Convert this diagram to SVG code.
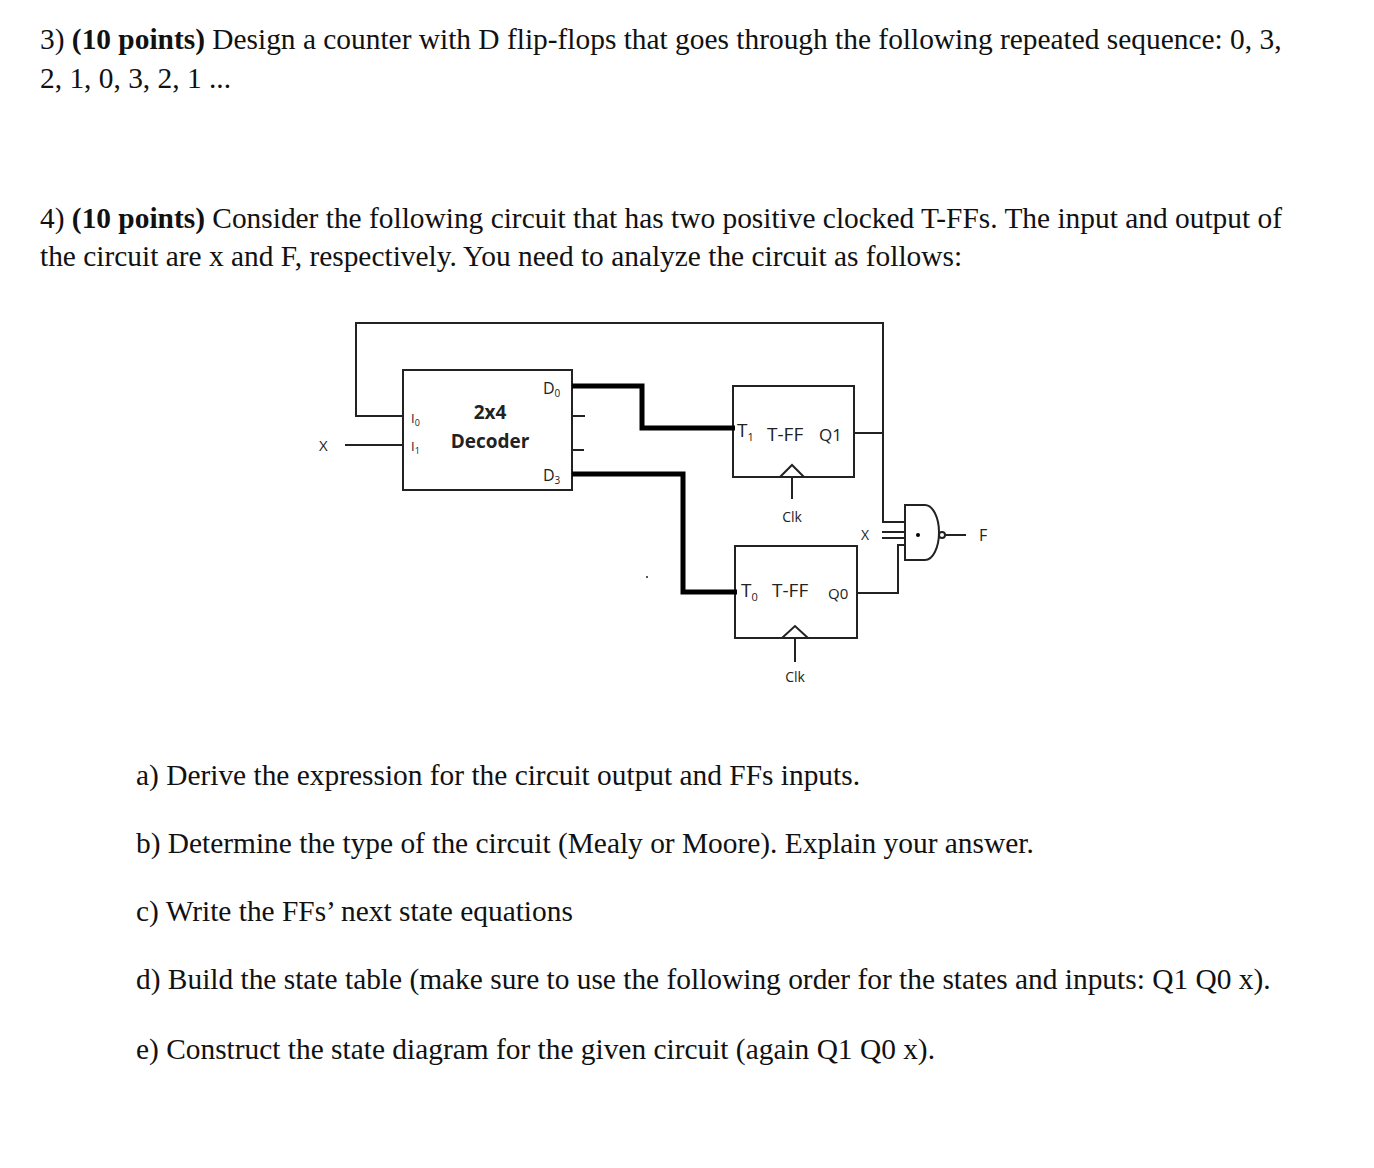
<svg xmlns="http://www.w3.org/2000/svg" width="1374" height="1168" viewBox="0 0 1374 1168">
<style>
.t{font-family:"Liberation Serif",serif;font-size:29.4px;fill:#111}
.s{font-family:"Open Sans","DejaVu Sans",sans-serif;fill:#222}
.b{fill:none;stroke:#222;stroke-width:2}
.w{fill:none;stroke:#222;stroke-width:2}
.k{fill:none;stroke:#000;stroke-width:5}
</style>
<rect width="1374" height="1168" fill="#fff"/>
<text class="t" x="40" y="49">3) <tspan font-weight="bold">(10 points)</tspan> Design a counter with D flip-flops that goes through the following repeated sequence: 0, 3,</text>
<text class="t" x="40" y="88">2, 1, 0, 3, 2, 1 ...</text>
<text class="t" x="40" y="228">4) <tspan font-weight="bold">(10 points)</tspan> Consider the following circuit that has two positive clocked T-FFs. The input and output of</text>
<text class="t" x="40" y="266">the circuit are x and F, respectively. You need to analyze the circuit as follows:</text>
<g id="decoder">
<rect class="b" x="403" y="370" width="169" height="120"/>
<text class="s" x="490" y="419" font-size="19" font-weight="bold" text-anchor="middle">2x4</text>
<text class="s" x="490" y="448" font-size="19" font-weight="bold" text-anchor="middle">Decoder</text>
<text class="s" x="411" y="423" font-size="13">I<tspan font-size="9" dy="3">0</tspan></text>
<text class="s" x="411" y="451" font-size="13">I<tspan font-size="9" dy="3">1</tspan></text>
<text class="s" x="543" y="394" font-size="16">D<tspan font-size="10" dy="3">0</tspan></text>
<text class="s" x="543" y="481" font-size="16">D<tspan font-size="10" dy="3">3</tspan></text>
<path class="w" d="M572 416h13M572 450h12" stroke-width="3"/>
</g>
<g id="tff1">
<rect class="b" x="733" y="386" width="121" height="91"/>
<text class="s" x="737" y="437" font-size="19">T<tspan font-size="11" dy="4">1</tspan></text>
<text class="s" x="767" y="441" font-size="19">T-FF</text>
<text class="s" x="819" y="441" font-size="17" font-family="Liberation Serif">Q1</text>
<path class="b" d="M780 477l12-12l12 12M792 477v22"/>
<text class="s" x="792" y="522" font-size="14" text-anchor="middle">Clk</text>
</g>
<g id="tff0">
<rect class="b" x="735" y="546" width="122" height="92"/>
<text class="s" x="741" y="597" font-size="19">T<tspan font-size="11" dy="4">0</tspan></text>
<text class="s" x="772" y="597" font-size="19">T-FF</text>
<text class="s" x="828" y="599" font-size="15" font-family="Liberation Serif">Q0</text>
<path class="b" d="M782 638l13-12l13 12M795 638v24"/>
<text class="s" x="795" y="682" font-size="14" text-anchor="middle">Clk</text>
</g>
<g id="gate">
<path class="b" d="M905 505h20a14 27.5 0 0 1 0 55h-20z" stroke-width="2.5"/>
<circle cx="918" cy="535" r="2" fill="#000"/>
<circle cx="942" cy="535" r="3" class="b" stroke-width="1.5"/>
<text class="s" x="979" y="541" font-size="16">F</text>
<text class="s" x="861" y="540" font-size="14">X</text>
</g>
<g id="connectors">
<path class="w" d="M403 416H356V323H883V522H905"/>
<path class="w" d="M854 433H883"/>
<path class="w" d="M345 445H403"/>
<text class="s" x="319" y="451" font-size="15">X</text>
<path class="k" d="M572 386H642V428H735"/>
<path class="k" d="M572 474H683V592H737"/>
<path class="w" d="M857 593H898V545H905"/>
<path class="w" d="M882 532H905M882 538H905" stroke-width="1.5"/>
<path class="w" d="M945 535H966"/>
<circle cx="647" cy="577" r="1" fill="#222"/>
</g>
<text class="t" x="136" y="785">a) Derive the expression for the circuit output and FFs inputs.</text>
<text class="t" x="136" y="853">b) Determine the type of the circuit (Mealy or Moore). Explain your answer.</text>
<text class="t" x="136" y="921">c) Write the FFs’ next state equations</text>
<text class="t" x="136" y="989">d) Build the state table (make sure to use the following order for the states and inputs: Q1 Q0 x).</text>
<text class="t" x="136" y="1059">e) Construct the state diagram for the given circuit (again Q1 Q0 x).</text>
</svg>
